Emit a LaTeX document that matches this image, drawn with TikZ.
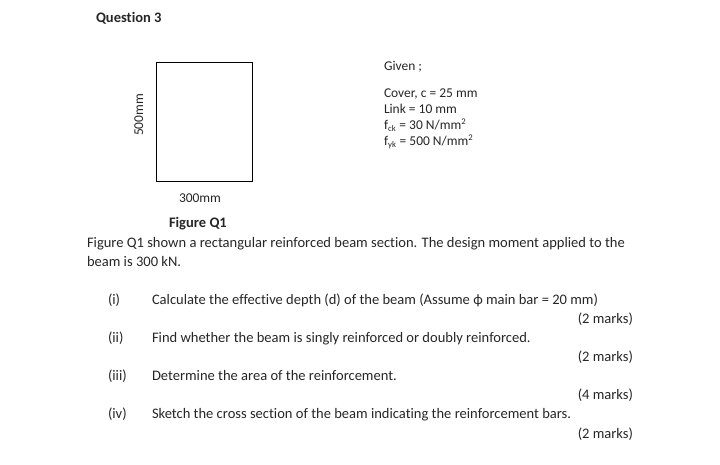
\documentclass[tikz,border=0pt]{standalone}
\usepackage{fontspec}
\setmainfont[Ligatures=CommonOff]{Carlito}
\tikzset{
	txt/.style={anchor=base west, inner sep=0pt, outer sep=0pt, font=\fontsize{10.9pt}{12pt}\selectfont, text=black!85},
	smalltxt/.style={txt, font=\fontsize{10.1pt}{12pt}\selectfont},
	boldtxt/.style={txt, font=\fontsize{10.9pt}{12pt}\selectfont\bfseries},
	section/.style={draw, line width=0.9pt},
}
\newcommand{\subs}[1]{\textsubscript{\fontsize{6.5pt}{6pt}\selectfont #1}}
\newcommand{\sups}[1]{\textsuperscript{\fontsize{6.5pt}{6pt}\selectfont #1}}
\begin{document}
\begin{tikzpicture}[x=0.75pt, y=-0.75pt]
	\useasboundingbox (0,0) rectangle (720,464);
	\node[boldtxt] (title) at (96,22) {Question 3};
	% beam section
	\node[section, minimum width=72pt, minimum height=89.25pt, inner sep=0pt] (beam) at (204.7,121.8) {};
	\node[smalltxt, rotate=90, anchor=base] (height) at (143,115) {500mm};
	\node[smalltxt] (width) at (179,202) {300mm};
	\node[boldtxt] (figure) at (169,227) {Figure Q1};
	% given data
	\node[smalltxt] (given) at (384,70) {Given ;};
	\node[smalltxt] (cover) at (384,97) {Cover, c = 25 mm};
	\node[smalltxt] (link) at (384,113) {Link = 10 mm};
	\node[smalltxt] (fck) at (384,129) {f\subs{ck} = 30 N/mm\sups{2}};
	\node[smalltxt] (fyk) at (384,145) {f\subs{yk} = 500 N/mm\sups{2}};
	% question text
	\node[txt] (introa) at (87,247) {Figure Q1 shown a rectangular reinforced beam section. The design moment applied to the};
	\node[txt] (introb) at (87,266) {beam is 300 kN.};
	\node[txt] (numa) at (108,304) {(i)};
	\node[txt] (parta) at (152,304) {Calculate the effective depth (d) of the beam (Assume ϕ main bar = 20 mm)};
	\node[txt, anchor=base east] (marka) at (633,323) {(2 marks)};
	\node[txt] (numb) at (108,342) {(ii)};
	\node[txt] (partb) at (152,342) {Find whether the beam is singly reinforced or doubly reinforced.};
	\node[txt, anchor=base east] (markb) at (633,361) {(2 marks)};
	\node[txt] (numc) at (108,380) {(iii)};
	\node[txt] (partc) at (152,380) {Determine the area of the reinforcement.};
	\node[txt, anchor=base east] (markc) at (633,399) {(4 marks)};
	\node[txt] (numd) at (108,418) {(iv)};
	\node[txt] (partd) at (152,418) {Sketch the cross section of the beam indicating the reinforcement bars.};
	\node[txt, anchor=base east] (markd) at (633,438) {(2 marks)};
\end{tikzpicture}
\end{document}
